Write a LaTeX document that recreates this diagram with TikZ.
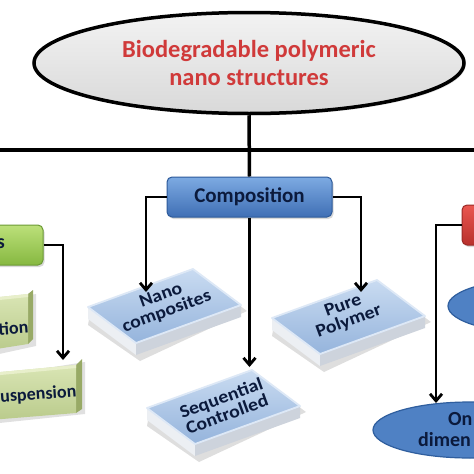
\documentclass[tikz,border=0pt]{standalone}
\usepackage{fontspec}
\setmainfont{Carlito}
\usetikzlibrary{arrows.meta,shapes.geometric,shadows}
\definecolor{titlered}{HTML}{D03A3A}
\definecolor{navy}{HTML}{0B1A3C}
\definecolor{bluetop}{HTML}{7DAAE2}
\definecolor{bluebot}{HTML}{3F6FB5}
\definecolor{blueedge}{HTML}{2D5A9A}
\definecolor{greentop}{HTML}{BCE07A}
\definecolor{greenbot}{HTML}{86B840}
\definecolor{greenedge}{HTML}{6C9A35}
\definecolor{redtop}{HTML}{EA5750}
\definecolor{redbot}{HTML}{B8302C}
\definecolor{rededge}{HTML}{9A2A26}
\definecolor{slabtop}{HTML}{C9DBF1}
\definecolor{slabbot}{HTML}{95B4DC}
\definecolor{slabedge}{HTML}{DDE8F6}
\definecolor{slabsideA}{HTML}{ECEFF3}
\definecolor{slabsideB}{HTML}{CDD3DC}
\definecolor{gslabtop}{HTML}{D9E5B4}
\definecolor{gslabbot}{HTML}{BACB8C}
\definecolor{gslabbevel}{HTML}{E8EFCB}
\definecolor{gslabside}{HTML}{98AA66}
\definecolor{ellblue}{HTML}{4F81C4}
\definecolor{elledge}{HTML}{2F5E9E}
\tikzset{
  mainline/.style={line width=3.5pt, black},
  arrowline/.style={line width=2.8pt, black, -{Straight Barb[length=7pt,width=12pt]}},
  flatbox/.style={rectangle, rounded corners=5pt, line width=1pt,
    drop shadow={opacity=0.3, shadow xshift=1.5pt, shadow yshift=-2pt}},
  slabtext/.style={font=\fontsize{18}{17}\selectfont\bfseries, text=navy, align=center, inner sep=0pt, rotate=20, xscale=1.1},
  gtext/.style={font=\fontsize{18}{20}\selectfont\bfseries, text=navy, inner sep=0pt, rotate=4},
  etext/.style={font=\fontsize{20}{21}\selectfont\bfseries, text=navy, inner sep=0pt, anchor=west}
}
\newcommand\slabdraw[2]{%
  \begin{scope}[shift={(#1,#2)}]
    \fill[black, opacity=0.13] (2,6) -- (108,-34) -- (159,4) -- (52,54) -- (0,18) -- cycle;
    \fill[slabsideA] (0,0) -- (48,36) -- (48,48) -- (0,12) -- cycle;
    \fill[slabsideB] (48,36) -- (153,-2) -- (153,10) -- (48,48) -- cycle;
    \shade[top color=slabtop, bottom color=slabbot, draw=slabedge, line width=1.8pt, line join=round]
      (0,0) -- (105,-38) -- (153,-2) -- (48,36) -- cycle;
  \end{scope}}
\begin{document}
\begin{tikzpicture}[x=1pt, y=-1pt]
\useasboundingbox (0,0) rectangle (474,474);
\fill[white] (0,0) rectangle (474,474);
\clip (0,0) rectangle (474,474);

% horizontal main line
\coordinate (hl) at (0,150);
\coordinate (hr) at (474,150);
\draw[mainline] (hl) -- (hr);

% title ellipse
\node[ellipse, draw=black, line width=3.5pt, top color=white!95!black, bottom color=white!85!black,
      minimum width=430pt, minimum height=101pt, align=center, text=titlered,
      font=\fontsize{24.5}{28}\selectfont\bfseries,
      drop shadow={opacity=0.25, shadow xshift=1.5pt, shadow yshift=-2pt}]
  (title) at (249,63) {Biodegradable polymeric\\nano structures};

% composition box
\node[flatbox, draw=blueedge, top color=bluetop, bottom color=bluebot,
      minimum width=165pt, minimum height=40pt, text=navy,
      font=\fontsize{21}{21}\selectfont\bfseries]
  (comp) at (249.5,197) {Composition};
\draw[mainline] (title.south) -- (comp.north);

% green box (left, cut)
\node[flatbox, draw=greenedge, top color=greentop, bottom color=greenbot,
      minimum width=110pt, minimum height=40pt] (grn) at (-12,245) {};
\node[font=\fontsize{20}{20}\selectfont\bfseries, text=navy, anchor=east, inner sep=0pt] (grntext) at (5,244) {s};

% red box (right, cut)
\node[flatbox, draw=rededge, top color=redtop, bottom color=redbot,
      minimum width=80pt, minimum height=40pt] (red) at (502,225) {};

% blue slabs
\slabdraw{88}{307}
\slabdraw{272}{318}
\slabdraw{147}{408}
\node[slabtext] (nano) at (164,304) {Nano\\composites};
\node[slabtext] (pure) at (346,314) {Pure\\Polymer};
\node[slabtext] (seq) at (224,406) {Sequential\\Controlled};

% green slabs (left, cut)
\fill[black, opacity=0.12] (-10,302) -- (36,294) -- (36,346) -- (-10,356) -- cycle;
\fill[gslabside] (28,294) -- (33,290) -- (33,339) -- (28,344) -- cycle;
\shade[top color=gslabtop, bottom color=gslabbot] (-10,298) -- (28,294) -- (28,344) -- (-10,350) -- cycle;
\fill[gslabbevel] (-10,298) -- (28,294) -- (28,297) -- (-10,301) -- cycle;
\node[gtext, anchor=east] (tion) at (28.5,327) {tion};

\fill[black, opacity=0.12] (-10,377) -- (85,362) -- (85,414) -- (-10,424) -- cycle;
\fill[gslabside] (76,365) -- (82,359) -- (82,409) -- (76,413) -- cycle;
\shade[top color=gslabtop, bottom color=gslabbot] (-10,373) -- (76,365) -- (76,413) -- (-10,420) -- cycle;
\fill[gslabbevel] (-10,373) -- (76,365) -- (76,368) -- (-10,376) -- cycle;
\node[gtext, anchor=east] (susp) at (76.5,392) {uspension};

% right ellipses (cut)
\node[ellipse, draw=elledge, line width=1.2pt, fill=ellblue, minimum width=194pt, minimum height=56pt] (ellA) at (545,306) {};
\node[ellipse, draw=elledge, line width=1.2pt, fill=ellblue, minimum width=194pt, minimum height=56pt] (ellB) at (470,430) {};
\node[etext] (onA) at (448,419) {On};
\node[etext] (onB) at (418,440) {dimen};

% arrow targets
\coordinate (nanotip) at (146,292);
\coordinate (puretip) at (361,292);
\coordinate (seqtip) at (249.5,367);
\coordinate (susptip) at (63,360);
\coordinate (onetip) at (436,403);

% connectors
\draw[arrowline] (comp.west) -| (nanotip);
\draw[arrowline] (comp.east) -| (puretip);
\draw[arrowline] (comp.south) -- (seqtip);
\draw[arrowline] (grn.east) -| (susptip);
\draw[arrowline] (red.west) -| (onetip);
\end{tikzpicture}
\end{document}
